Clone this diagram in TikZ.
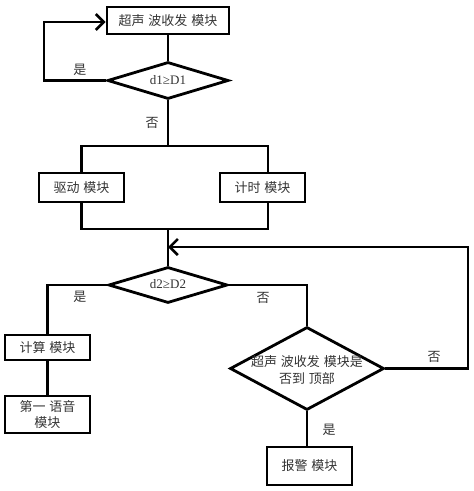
\documentclass[tikz,border=0pt]{standalone}
\usepackage{fontspec}
\setmainfont{Liberation Serif}
\newfontfamily\cjk[WordSpace=1.3]{Noto Sans CJK SC}
\usetikzlibrary{shapes.geometric,arrows.meta}
\tikzset{
  box/.style={draw, line width=2.8pt, rectangle, inner sep=0pt, font=\cjk\fontsize{13}{15}\selectfont, text=black!80},
  dia/.style={draw, line width=2.8pt, diamond, inner sep=0pt},
  lbl/.style={font=\cjk\fontsize{13}{15}\selectfont, text=black!80, inner sep=0pt},
  cond/.style={font=\fontsize{13}{15}\selectfont, text=black!80},
  wire/.style={line width=2.8pt},
  arr/.style={line width=2.8pt, -{Straight Barb[length=8pt, width=16pt, line width=2.6pt]}}
}
\begin{document}
\begin{tikzpicture}[x=1pt,y=-1pt]
\useasboundingbox (0,0) rectangle (474,491);
% nodes
\node[box, minimum width=122pt, minimum height=27pt] (top) at (168,20.5) {超声 波收发 模块};
\node[dia, minimum width=121pt, minimum height=37pt] (dia1) at (168,80.5) {};
\node[cond] (c1) at (168,80.5) {d1≥D1};
\node[box, minimum width=85pt, minimum height=29pt] (drive) at (81.5,187.5) {驱动 模块};
\node[box, minimum width=85pt, minimum height=29pt] (timer) at (262.5,187.5) {计时 模块};
\node[dia, minimum width=119pt, minimum height=36pt] (dia2) at (168,285) {};
\node[cond] (c2) at (168,284) {d2≥D2};
\node[box, minimum width=85pt, minimum height=25pt] (calc) at (47.5,347.5) {计算 模块};
\node[box, minimum width=85pt, minimum height=37pt, align=center, font=\cjk\fontsize{13}{16}\selectfont] (voice) at (47.5,414.5) {第一 语音\\模块};
\node[dia, minimum width=154pt, minimum height=83pt] (dia3) at (307,368.5) {};
\node[lbl, align=center, font=\cjk\fontsize{13}{16.5}\selectfont] (c3) at (307,370) {超声 波收发 模块是\\否到 顶部};
\node[box, minimum width=85pt, minimum height=38pt] (alarm) at (309.5,466) {报警 模块};
% coordinates
\coordinate (loop) at (44,22);
\coordinate (split) at (168,146);
\coordinate (jl) at (81.5,146);
\coordinate (jr) at (268,146);
\coordinate (bl) at (81.5,229);
\coordinate (br) at (268,229);
\coordinate (bm) at (168,229);
\coordinate (ret) at (468,247);
\coordinate (retr) at (468,368.5);
% connectors
\draw[arr] (dia1.west) -| (loop) -- (top.west |- loop);
\draw[wire] (top.south) -- (dia1.north);
\draw[wire] (dia1.south) -- (split);
\draw[wire] (jl |- drive.north) -- (jl) -- (jr) -- (jr |- timer.north);
\draw[wire] (bl |- drive.south) -- (bl) -- (br) -- (br |- timer.south);
\draw[wire] (bm) -- (dia2.north);
\draw[wire] (dia2.west) -| (calc.north);
\draw[wire] (calc.south) -- (voice.north);
\draw[wire] (dia2.east) -| (dia3.north);
\draw[wire] (dia3.south) -- (dia3.south |- alarm.north);
\draw[arr] (dia3.east) -- (retr) -- (ret) -- (bm |- ret);
% labels
\node[lbl] (l1) at (80,70) {是};
\node[lbl] (l2) at (152,123) {否};
\node[lbl] (l3) at (80,297) {是};
\node[lbl] (l4) at (263,298) {否};
\node[lbl] (l5) at (434,357) {否};
\node[lbl] (l6) at (329,430) {是};
\end{tikzpicture}
\end{document}
